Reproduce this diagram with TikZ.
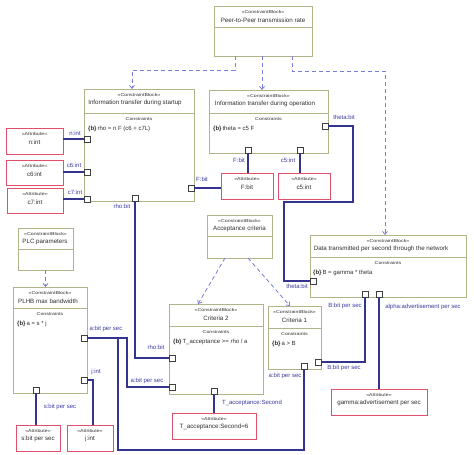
\documentclass[tikz,border=0pt]{standalone}
\usepackage{fontspec}
\setmainfont{Liberation Sans}
\newfontfamily\stereofont{Liberation Sans}[FakeStretch=1.25]
\usetikzlibrary{arrows.meta,calc,fit}
\definecolor{blkc}{HTML}{B3B38A}
\definecolor{attrc}{HTML}{E0506A}
\definecolor{connc}{HTML}{34348E}
\definecolor{depc}{HTML}{7B7BD9}
\definecolor{lblc}{HTML}{3A3AA0}
\definecolor{txtc}{HTML}{303030}
\tikzset{
  blk/.style={draw=blkc, line width=0.8pt, fill=white, inner sep=0pt, outer sep=0pt},
  blkline/.style={draw=blkc, line width=0.8pt},
  attrbox/.style={draw=attrc, line width=0.9pt, fill=white, inner sep=0pt, outer sep=0pt},
  stereo/.style={inner sep=0pt, text=txtc, font=\stereofont\fontsize{4.2}{5}\selectfont},
  ttl/.style={inner sep=0pt, text=txtc, font=\fontsize{6.2}{7}\selectfont},
  eqn/.style={inner sep=0pt, anchor=west, text=txtc, font=\fontsize{6}{7}\selectfont},
  lbl/.style={inner sep=0pt, text=lblc, font=\fontsize{6}{7}\selectfont},
  port/.style={draw=black!75, fill=white, line width=0.6pt, minimum size=6pt, inner sep=0pt, outer sep=0pt},
  conn/.style={draw=connc, line width=1.1pt},
  dep/.style={draw=depc, line width=0.8pt, dash pattern=on 4pt off 3pt, -{Straight Barb[length=3pt,width=5pt]}},
}
% name, x1, y1, x2, y2, separator y, title, title x
\newcommand\cblock[8]{%
  \node[blk, fit={(#2,#3) (#4,#5)}] (#1) {};
  \draw[blkline] (#2,#6) -- (#4,#6);
  \node[stereo] (#1-st) at ($(#1.north)+(0,6)$) {«ConstraintBlock»};
  \node[ttl] (#1-tt) at (#8,{#3+14}) {#7};
}
% name, x1, y1, x2, y2, text
\newcommand\attrblock[6]{%
  \node[attrbox, fit={(#2,#3) (#4,#5)}] (#1) {};
  \node[stereo] (#1-st) at ($(#1.north)+(0,6)$) {«Attribute»};
  \node[ttl] (#1-tt) at ($(#1.north)+(0,14)$) {#6};
}
\newcommand\constr[4]{% name, separator y, eq x, equation
  \node[stereo] (#1-cs) at ($(#1.north |- 0,#2)+(0,6)$) {Constraints};
  \node[eqn] (#1-eq) at (#3,{#2+15.5}) {\textbf{\{b\}}\,#4};
}
\begin{document}
\begin{tikzpicture}[x=1pt,y=-1pt]
\useasboundingbox (0,0) rectangle (474,455);
\fill[white] (0,0) rectangle (474,455);

% ---------- constraint blocks ----------
\cblock{pp}{214}{6}{312}{56}{27}{Peer-to-Peer transmission rate}{263}
\cblock{st}{84}{89}{194}{201}{113}{Information transfer during startup}{135}
\constr{st}{113}{88}{rho = n F (c6 + c7L)}
\cblock{op}{209}{90}{328}{153}{113}{Information transfer during operation}{265}
\constr{op}{113}{213}{theta = c5 F}
\cblock{dt}{310}{235}{466}{297}{257}{Data transmitted per second through the network}{381}
\constr{dt}{257}{313}{B = gamma * theta}
\cblock{ac}{207}{215}{272}{258}{236}{Acceptance criteria}{239.5}
\cblock{c2}{169}{304}{263}{394}{326}{Criteria 2}{216}
\constr{c2}{326}{173}{T\_acceptance >= rho / a}
\cblock{c1}{268}{306}{321}{369}{328}{Criteria 1}{294.5}
\constr{c1}{328}{272}{a > B}
\cblock{pl}{18}{228}{73}{270}{249}{PLC parameters}{45}
\cblock{ph}{13}{287}{87}{393}{308}{PLHB max bandwidth}{48}
\constr{ph}{308}{17}{a = s * j}

% ---------- attributes ----------
\attrblock{a-n}{6}{128}{63}{154}{n:int}
\attrblock{a-c6}{6}{160}{63}{185}{c6:int}
\attrblock{a-c7}{7}{188}{63}{213}{c7:int}
\attrblock{a-F}{221}{173}{273}{199}{F:bit}
\attrblock{a-c5}{278}{173}{330}{199}{c5:int}
\attrblock{a-gam}{331}{389}{427}{415}{gamma:advertisement per sec}
\attrblock{a-T}{172}{413}{256}{439}{T\_acceptance:Second=6}
\attrblock{a-s}{16}{425}{60}{451}{s:bit per sec}
\attrblock{a-j}{67}{425}{113}{451}{j:int}

% ---------- dependency arrows ----------
\coordinate (pp1) at (235,56);
\coordinate (pp2) at (262,56);
\coordinate (pp3) at (292,56);
\coordinate (k1) at (132,70);
\coordinate (k2) at (385,71);
\coordinate (ac1) at (225,258);
\coordinate (ac2) at (248,258);
\coordinate (c2top) at (198,304);
\coordinate (c1top) at (290,306);
\draw[dep] (pp1) |- (k1) -- (k1 |- st.north);
\draw[dep] (pp2) -- (pp2 |- op.north);
\draw[dep] (pp3) |- (k2) -- (k2 |- dt.north);
\draw[dep] (ac1) -- (c2top);
\draw[dep] (ac2) -- (c1top);
\draw[dep] (pl.south) -- (pl.south |- ph.north);

% ---------- ports ----------
\coordinate (th1) at (353,202);
\coordinate (th2) at (284,202);
\coordinate (aj1) at (127,338);
\coordinate (aj2) at (118,338);
\coordinate (aj3) at (118,450);
\coordinate (jj) at (93,380);

\node[port] (st-n) at (87,139) {};
\node[port] (st-c6) at (87,172) {};
\node[port] (st-c7) at (87,199) {};
\node[port] (st-F) at (191,188) {};
\node[port] (st-rho) at (135,198) {};
\node[port] (op-th) at (325,126) {};
\node[port] (op-F) at (248,150) {};
\node[port] (op-c5) at (300,150) {};
\node[port] (dt-th) at (313,281) {};
\node[port] (dt-B) at (365,294) {};
\node[port] (dt-al) at (379,294) {};
\node[port] (c2-rho) at (172,358) {};
\node[port] (c2-a) at (172,387) {};
\node[port] (c2-T) at (214,391) {};
\node[port] (c1-B) at (318,362) {};
\node[port] (c1-a) at (304,366) {};
\node[port] (ph-a) at (84,338) {};
\node[port] (ph-j) at (84,380) {};
\node[port] (ph-s) at (36,390) {};

% ---------- connectors ----------
\draw[conn] (a-n.east |- st-n) -- (st-n.west);
\draw[conn] (a-c6.east |- st-c6) -- (st-c6.west);
\draw[conn] (a-c7.east |- st-c7) -- (st-c7.west);
\draw[conn] (st-F.east) -- (st-F.east -| a-F.west);
\draw[conn] (op-F.south) -- (op-F.south |- a-F.north);
\draw[conn] (op-c5.south) -- (op-c5.south |- a-c5.north);
\draw[conn] (op-th.east) -| (th1) -- (th2) |- (dt-th.west);
\draw[conn] (st-rho.south) |- (c2-rho.west);
\draw[conn] (dt-B.south) |- (c1-B.east);
\draw[conn] (dt-al.south) -- (dt-al.south |- a-gam.north);
\draw[conn] (c2-T.south) -- (c2-T.south |- a-T.north);
\draw[conn] (ph-a.east) -- (aj1) |- (c2-a.west);
\draw[conn] (aj2) -- (aj3) -| (c1-a.south);
\draw[conn] (ph-j.east) -- (jj) -- (jj |- a-j.north);
\draw[conn] (ph-s.south) -- (ph-s.south |- a-s.north);

% ---------- port labels ----------
\node[lbl] (l1) at (75,133) {n:int};
\node[lbl] (l2) at (74,165) {c6:int};
\node[lbl] (l3) at (75,192) {c7:int};
\node[lbl] (l4) at (202,179) {F:bit};
\node[lbl] (l5) at (122,206) {rho:bit};
\node[lbl] (l6) at (344,117) {theta:bit};
\node[lbl] (l7) at (239,160) {F:bit};
\node[lbl] (l8) at (288,160) {c5:int};
\node[lbl] (l9) at (297,286) {theta:bit};
\node[lbl] (l10) at (345,306) {B:bit per sec};
\node[lbl] (l11) at (423,307) {alpha:advertisement per sec};
\node[lbl] (l12) at (344,368) {B:bit per sec};
\node[lbl] (l13) at (285,376) {a:bit per sec};
\node[lbl] (l14) at (252,403) {T\_acceptance:Second};
\node[lbl] (l15) at (156,347) {rho:bit};
\node[lbl] (l16) at (147,381) {a:bit per sec};
\node[lbl] (l17) at (106,329) {a:bit per sec};
\node[lbl] (l18) at (96,372) {j:int};
\node[lbl] (l19) at (60,407) {s:bit per sec};
\end{tikzpicture}
\end{document}
